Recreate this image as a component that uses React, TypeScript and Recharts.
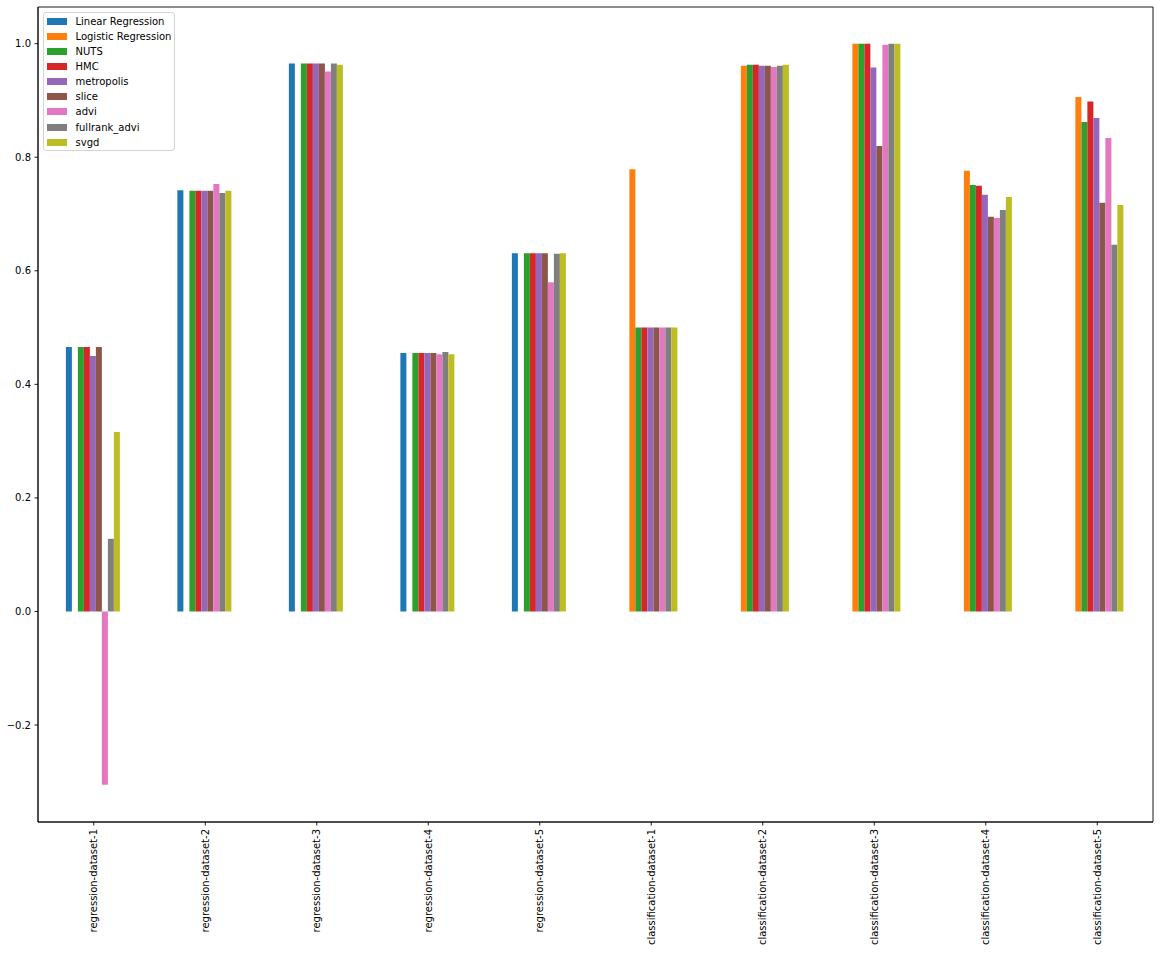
import React from "react";
import { BarChart, Bar, XAxis, YAxis, Legend, ReferenceArea } from "recharts";

const categories = [
  "regression-dataset-1",
  "regression-dataset-2",
  "regression-dataset-3",
  "regression-dataset-4",
  "regression-dataset-5",
  "classification-dataset-1",
  "classification-dataset-2",
  "classification-dataset-3",
  "classification-dataset-4",
  "classification-dataset-5",
];

const linearRegression = [0.466, 0.742, 0.965, 0.455, 0.631, null, null, null, null, null];
const logisticRegression = [null, null, null, null, null, 0.779, 0.961, 1.0, 0.776, 0.906];
const nuts = [0.466, 0.741, 0.965, 0.455, 0.631, 0.5, 0.963, 1.0, 0.751, 0.862];
const hmc = [0.466, 0.741, 0.965, 0.455, 0.631, 0.5, 0.963, 1.0, 0.75, 0.898];
const metropolis = [0.45, 0.741, 0.965, 0.455, 0.631, 0.5, 0.961, 0.958, 0.734, 0.869];
const sliceS = [0.466, 0.741, 0.965, 0.455, 0.631, 0.5, 0.961, 0.82, 0.695, 0.72];
const advi = [-0.305, 0.753, 0.951, 0.453, 0.58, 0.5, 0.959, 0.998, 0.693, 0.834];
const fullrankAdvi = [0.128, 0.737, 0.965, 0.457, 0.63, 0.5, 0.961, 1.0, 0.707, 0.646];
const svgd = [0.316, 0.741, 0.963, 0.453, 0.631, 0.5, 0.963, 1.0, 0.73, 0.716];

const seriesNames = [
  "Linear Regression",
  "Logistic Regression",
  "NUTS",
  "HMC",
  "metropolis",
  "slice",
  "advi",
  "fullrank_advi",
  "svgd",
];
const seriesValues = [
  linearRegression,
  logisticRegression,
  nuts,
  hmc,
  metropolis,
  sliceS,
  advi,
  fullrankAdvi,
  svgd,
];
const colors = [
  "#1f77b4",
  "#ff7f0e",
  "#2ca02c",
  "#d62728",
  "#9467bd",
  "#8c564b",
  "#e377c2",
  "#7f7f7f",
  "#bcbd22",
];

const yTicks = [-0.2, 0, 0.2, 0.4, 0.6, 0.8, 1.0];
const yDomain = [-0.3708, 1.0646];

const data = categories.map((name, i) => {
  const row: Record<string, any> = { name };
  seriesNames.forEach((s, k) => {
    row[s] = seriesValues[k][i];
  });
  return row;
});

const FONT = "'DejaVu Sans', sans-serif";

const XTick = (props: any) => {
  const { x, y, payload } = props;
  return (
    <text
      transform={`translate(${x},${y}) rotate(-90)`}
      textAnchor="end"
      dominantBaseline="central"
      fontFamily={FONT}
      fontSize={10}
      fill="#000"
    >
      {payload.value}
    </text>
  );
};

const LegendBox = () => (
  <div
    style={{
      width: 130,
      height: 137,
      border: "1px solid #d4d4d4",
      borderRadius: 3,
      background: "#fff",
      fontFamily: FONT,
      fontSize: 10,
      color: "#000",
      position: "relative",
    }}
  >
    {seriesNames.map((s, k) => (
      <div
        key={s}
        style={{
          position: "absolute",
          left: 3,
          top: 8.3 + k * 15.1 - 7.5,
          height: 15,
          display: "flex",
          alignItems: "center",
          whiteSpace: "nowrap",
        }}
      >
        <span
          style={{
            display: "inline-block",
            width: 20,
            height: 7,
            background: colors[k],
            marginRight: 8.5,
          }}
        />
        <span>{s}</span>
      </div>
    ))}
  </div>
);

const spine = { stroke: "#000", strokeWidth: 0.9 };

export default function App() {
  return (
    <div style={{ position: "absolute", left: 0, top: 0, background: "#fff" }}>
      <BarChart
        width={1161}
        height={953}
        data={data}
        margin={{ top: 7, right: 8, left: 0, bottom: 0 }}
        barCategoryGap="25%"
        barGap={0}
      >
        <XAxis
          dataKey="name"
          height={131}
          interval={0}
          tick={<XTick />}
          tickSize={3.5}
          tickMargin={3.5}
          stroke="#000"
          axisLine={spine}
          tickLine={spine}
        />
        <YAxis
          width={38}
          domain={yDomain}
          allowDataOverflow
          ticks={yTicks}
          interval={0}
          tickSize={3.5}
          tickMargin={3.5}
          tickFormatter={(v: number) => v.toFixed(1).replace("-", "\u2212")}
          tick={{ fontFamily: FONT, fontSize: 10, fill: "#000" }}
          axisLine={spine}
          tickLine={spine}
        />
        <ReferenceArea
          y1={yDomain[0]}
          y2={yDomain[1]}
          fill="none"
          fillOpacity={0}
          stroke="#000"
          strokeWidth={0.9}
          ifOverflow="visible"
        />
        <Legend
          layout="vertical"
          align="center"
          verticalAlign="middle"
          content={() => <LegendBox />}
          wrapperStyle={{ position: "absolute", left: 43, top: 12, width: 132, height: 139 }}
        />
        {seriesNames.map((s, k) => (
          <Bar
            key={s}
            dataKey={s}
            fill={colors[k]}
            isAnimationActive={false}
          />
        ))}
      </BarChart>
    </div>
  );
}
